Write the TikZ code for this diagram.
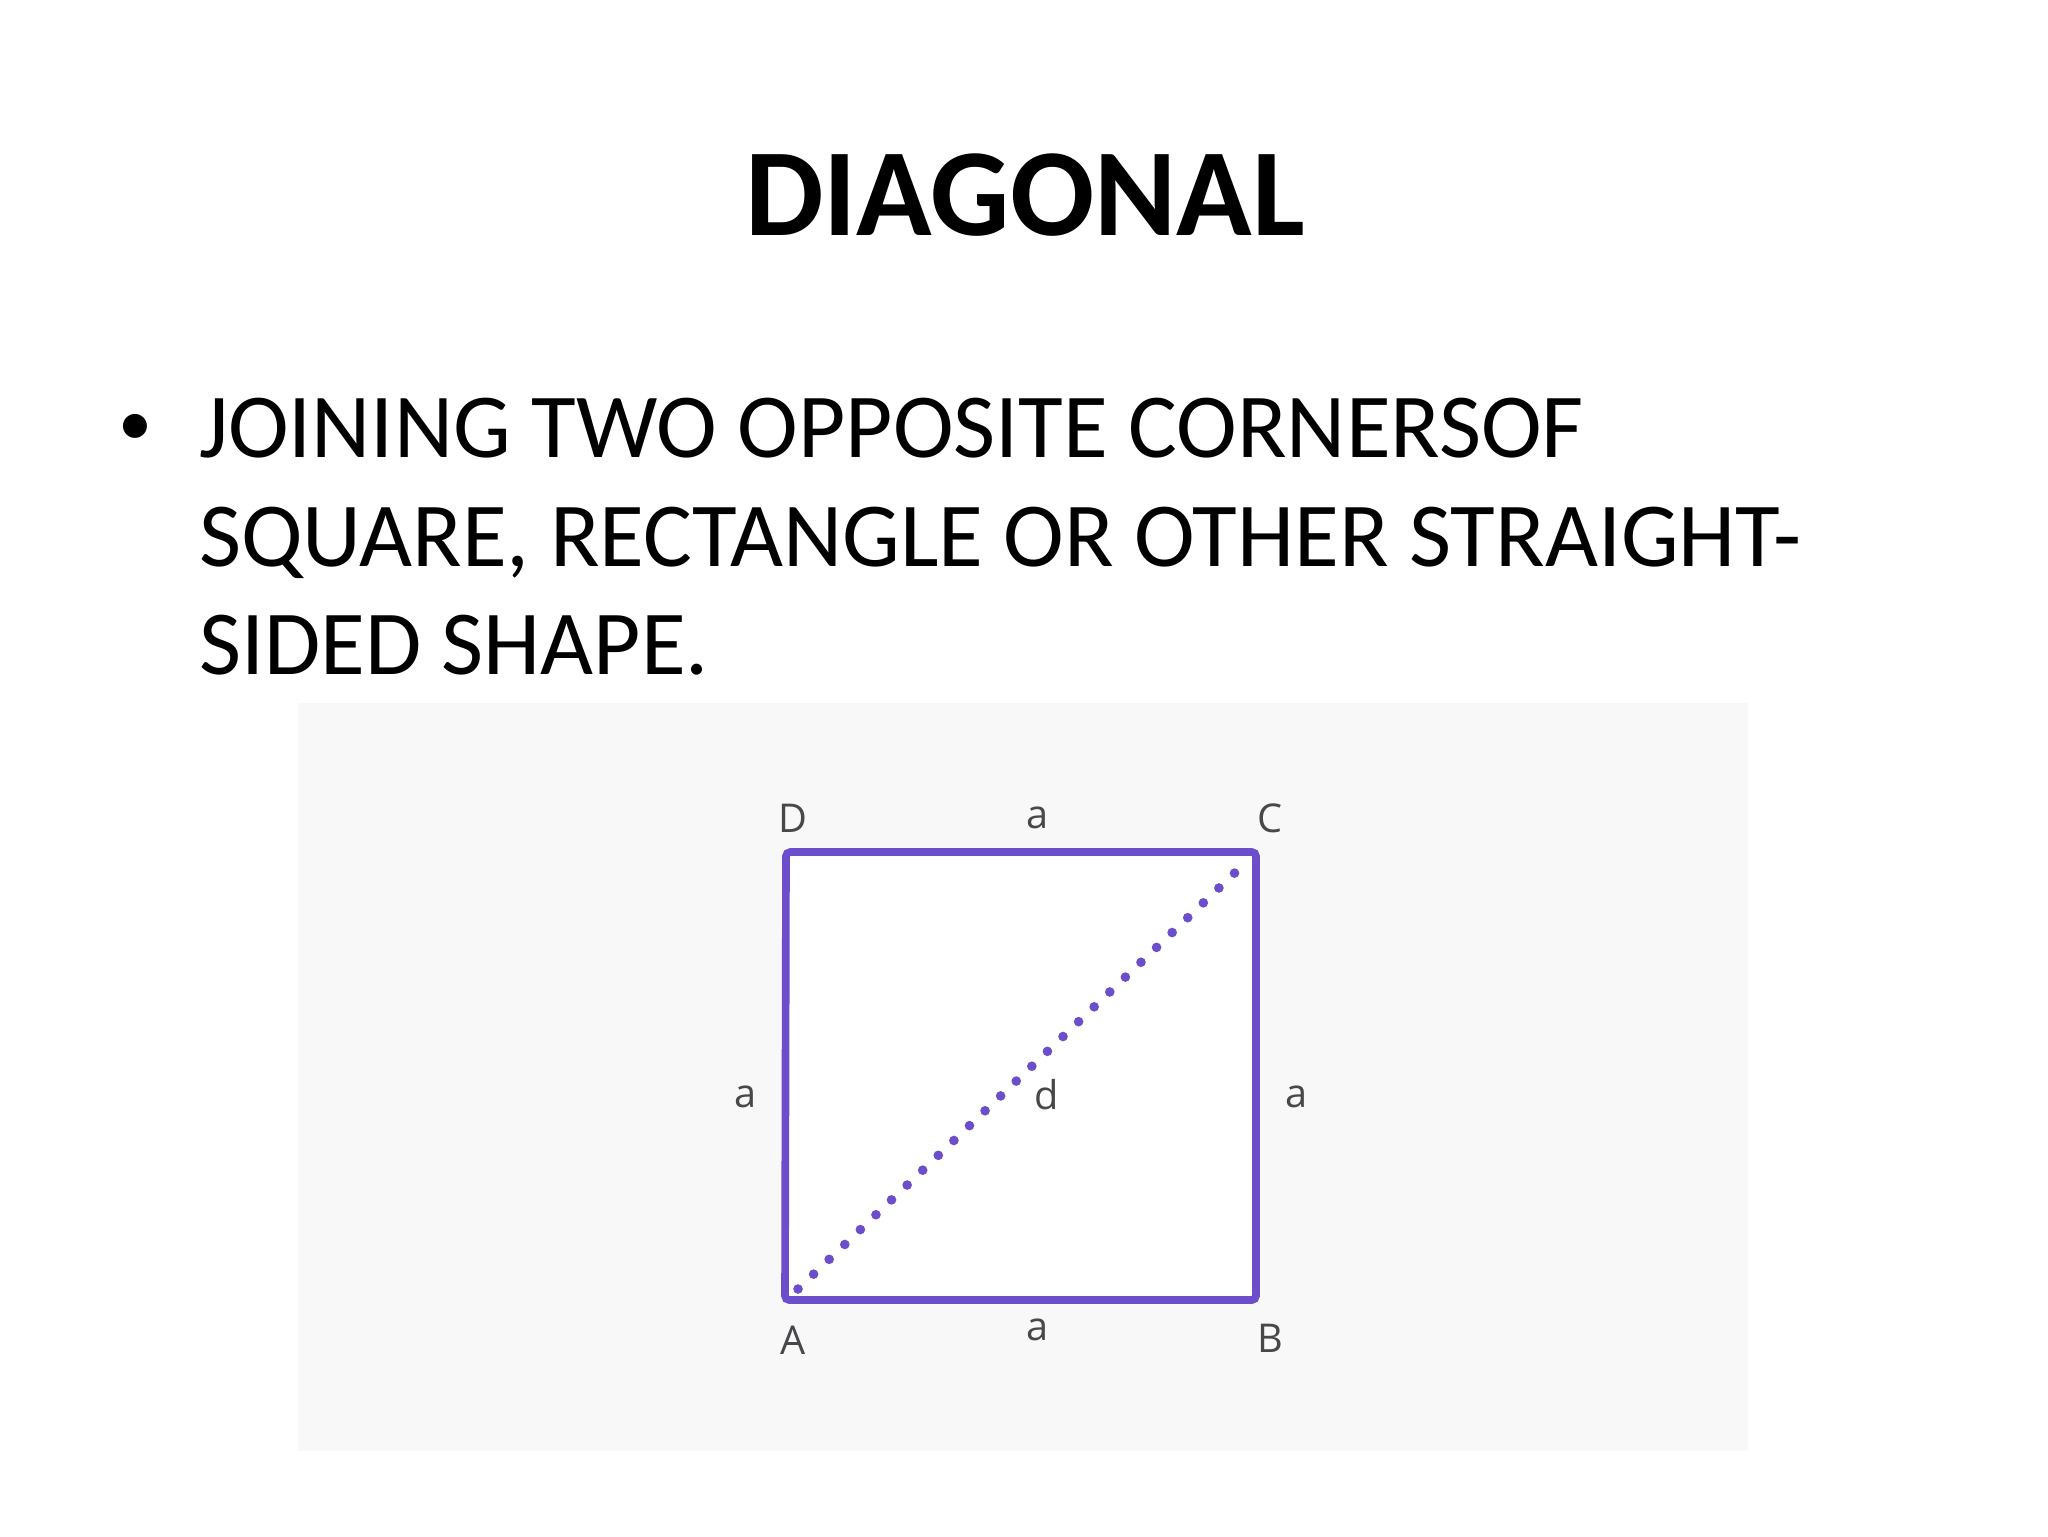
\documentclass[tikz,border=0pt]{standalone}
\usepackage{fontspec}
\usetikzlibrary{calc}
\setmainfont{Carlito}
\newfontfamily\labelfont{Open Sans}
\definecolor{sqpurple}{RGB}{108,78,204}
\definecolor{panelgray}{RGB}{248,248,249}
\definecolor{labelgray}{RGB}{72,72,74}

\begin{document}
\begin{tikzpicture}[
        x=0.0124023cm, y=-0.0124023cm, % 1 unit = 1 px of the slide
        title/.style = {font=\fontsize{44}{52}\selectfont\bfseries, anchor=base},
        line/.style = {font=\fontsize{32.3}{38}\selectfont, anchor=base west},
        corner/.style = {font=\labelfont\fontsize{14}{17}\selectfont, text=labelgray, inner sep=0pt},
        side/.style = {draw=sqpurple, line width=2.7pt, rounded corners=1.5pt},
        diag/.style = {draw=sqpurple, line width=3.4pt, line cap=round, dash pattern=on 0pt off 7.6pt},
    ]
    \useasboundingbox (0,0) rectangle (2048,1536);

    % heading and text
    \node[title] (head) at (1025,235) {DIAGONAL};
    \node[font=\fontsize{24}{28}\selectfont] (dot) at (135,430) {•};
    \node[line] (l1) at (189,457) {JOINING TWO OPPOSITE CORNERSOF};
    \node[line] (l2) at (189,566) {SQUARE, RECTANGLE OR OTHER STRAIGHT-};
    \node[line] (l3) at (189,674) {SIDED SHAPE.};

    % the figure
    \fill[panelgray] (298,703) rectangle (1748,1451);
    \coordinate (A) at (785,1300);
    \coordinate (B) at (1256,1300);
    \coordinate (C) at (1256,852);
    \coordinate (D) at (786,852);
    \fill[white] (A) -- (B) -- (C) -- (D) -- cycle;
    \draw[diag] ($(A)+(13,-11)$) -- ($(C)+(-13,13)$);
    \draw[side] (A) -- (B) -- (C) -- (D) -- cycle;

    \node[corner] (lD) at (793,818) {D};
    \node[corner] (lC) at (1270,818) {C};
    \node[corner] (lA) at (793,1340) {A};
    \node[corner] (lB) at (1270,1338) {B};
    \node[corner] (aTop) at (1038,818) {a};
    \node[corner] (aBot) at (1038,1330) {a};
    \node[corner] (aLeft) at (746,1097) {a};
    \node[corner] (aRight) at (1297,1097) {a};
    \node[corner] (lDiag) at (1047,1095) {d};

\end{tikzpicture}
\end{document}
